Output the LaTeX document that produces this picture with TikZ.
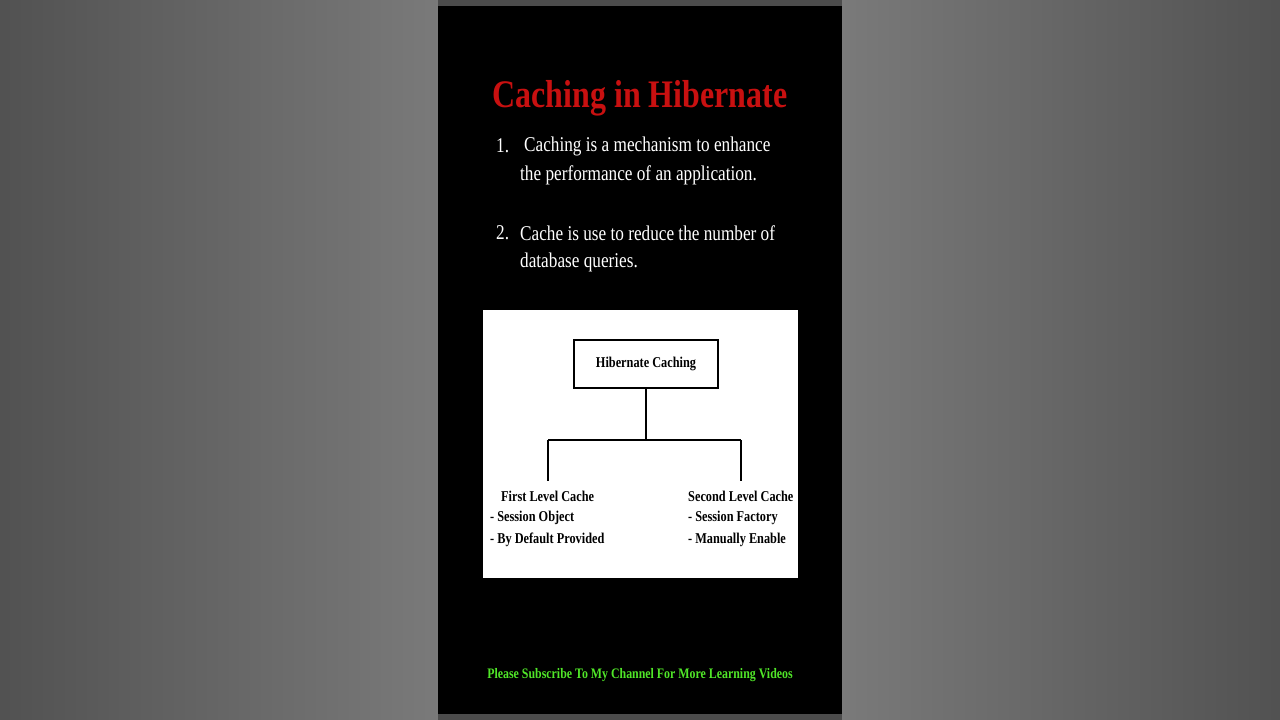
\documentclass[tikz,border=0pt]{standalone}
\usepackage{fontspec}
\setmainfont{Liberation Serif}[FakeStretch=0.82]
\begin{document}
\begin{tikzpicture}[x=1pt,y=-1pt,
  item/.style={anchor=west,text=white,font=\fontsize{21}{25}\selectfont,inner sep=0},
  lab/.style={anchor=west,font=\bfseries\fontsize{15}{18}\selectfont,inner sep=0},
  conn/.style={line width=2.5pt}]
\useasboundingbox (0,0) rectangle (1280,720);
\shade[left color=black!68,right color=black!45] (0,0) rectangle (640,720);
\shade[left color=black!45,right color=black!68] (640,0) rectangle (1280,720);
\fill[black!70] (438,0) rectangle (842,720);
\fill[black] (438,6) rectangle (842,714);
\node[text={rgb,255:red,200;green,16;blue,16},font=\bfseries\fontsize{39}{44}\selectfont] (title) at (640,98) {Caching in Hibernate};
\node[item] (n1) at (496,146) {1.};
\node[item] (t1a) at (524,146) {Caching is a mechanism to enhance};
\node[item] (t1b) at (520,175) {the performance of an application.};
\node[item] (n2) at (496,233) {2.};
\node[item] (t2a) at (520,233) {Cache is use to reduce the number of};
\node[item] (t2b) at (520,262) {database queries.};
\fill[white] (483,310) rectangle (798,578);
\node[draw,line width=2.5pt,minimum width=144,minimum height=48,font=\bfseries\fontsize{15}{18}\selectfont] (hc) at (646,364) {Hibernate Caching};
\coordinate (j) at (646,440);
\coordinate (l) at (548,440);
\coordinate (r) at (741,440);
\coordinate (lb) at (548,481);
\coordinate (rb) at (741,481);
\draw[conn] (hc.south) -- (j);
\draw[conn] (l) -- (r);
\draw[conn] (l) -- (lb);
\draw[conn] (r) -- (rb);
\node[lab] (f1) at (501,496) {First Level Cache};
\node[lab] (f2) at (490,518) {- Session Object};
\node[lab] (f3) at (490,540) {- By Default Provided};
\node[lab] (s1) at (688,496) {Second Level Cache};
\node[lab] (s2) at (688,518) {- Session Factory};
\node[lab] (s3) at (688,540) {- Manually Enable};
\node[text={rgb,255:red,80;green,230;blue,40},font=\bfseries\fontsize{14.5}{16}\selectfont] (foot) at (640,675) {Please Subscribe To My Channel For More Learning Videos};
\end{tikzpicture}
\end{document}
